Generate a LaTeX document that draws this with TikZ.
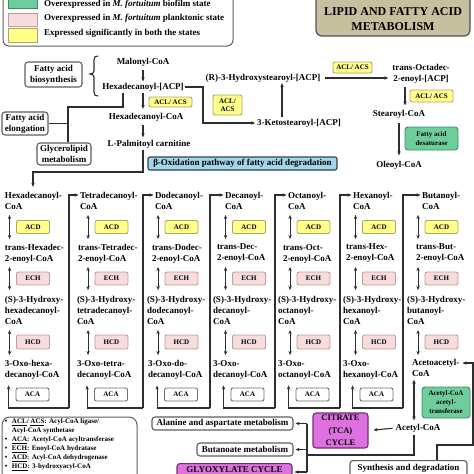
\documentclass[tikz,border=0pt]{standalone}
\usepackage{fontspec}
\setmainfont{Liberation Serif}
\usetikzlibrary{arrows.meta}
\definecolor{lnc}{HTML}{2E2E2E}
\definecolor{yelf}{HTML}{FFFF8A}
\definecolor{yeld}{HTML}{A8A86C}
\definecolor{pnkf}{HTML}{F7DCDC}
\definecolor{pnkd}{HTML}{C49A9A}
\definecolor{whd}{HTML}{6E6E6E}
\definecolor{grnf}{HTML}{6DCE9C}
\definecolor{grnd}{HTML}{3E8E65}
\definecolor{pbd}{HTML}{5E5E5E}
\definecolor{magf}{HTML}{DF70E0}
\definecolor{magd}{HTML}{6E306E}
\definecolor{bluef}{HTML}{A3D6E8}
\definecolor{blued}{HTML}{2F4550}
\definecolor{tanf}{HTML}{C7C09F}
\definecolor{tand}{HTML}{505050}
\tikzset{
 ln/.style={draw=lnc, line width=1.1pt},
 arr/.style={ln, -{Stealth[length=4pt,width=3.4pt]}},
 darr/.style={ln, {Stealth[length=4pt,width=3.4pt]}-{Stealth[length=4pt,width=3.4pt]}},
 tx/.style={inner sep=0pt, outer sep=0pt, font=\bfseries\fontsize{9}{11}\selectfont, align=left},
 txl/.style={tx, anchor=west},
 enz/.style={inner sep=0pt, rounded corners=2pt, line width=0.9pt, minimum width=33pt, minimum height=13pt, font=\bfseries\fontsize{7}{8}\selectfont, align=center},
 yel/.style={enz, fill=yelf, draw=yeld},
 pnk/.style={enz, fill=pnkf, draw=pnkd},
 wht/.style={enz, fill=white, draw=whd},
 grn/.style={enz, fill=grnf, draw=grnd, rounded corners=3pt, font=\bfseries\fontsize{7}{9}\selectfont},
 pbox/.style={inner sep=0pt, rounded corners=3pt, draw=pbd, line width=1.1pt, fill=white, font=\bfseries\fontsize{9}{11}\selectfont, align=center},
 mag/.style={pbox, fill=magf, draw=magd, font=\bfseries\fontsize{8.5}{12.5}\selectfont},
 swatch/.style={inner sep=0pt, line width=0.8pt, minimum width=29pt},
}
\newcommand\bcol[8]{%
 \node[txl] (ttl#1) at (#2,200.5) {#6};
 \node[yel] (acd#1) at (#5,227) {ACD};
 \node[txl] (tr#1) at (#3,253.5) {#7};
 \node[pnk] (ech#1) at (#5,278.5) {ECH};
 \node[txl] (s#1) at (#4,310) {#8};
 \node[pnk, minimum height=14pt] (hcd#1) at (#5,342) {HCD};
 \draw[darr] ([xshift=-6.5pt,yshift=12pt]acd#1.west) -- ([xshift=-6.5pt,yshift=-12pt]acd#1.west);
 \draw[darr] ([xshift=-6.5pt,yshift=11.5pt]ech#1.west) -- ([xshift=-6.5pt,yshift=-11.5pt]ech#1.west);
 \draw[darr] ([xshift=-6.5pt,yshift=12pt]hcd#1.west) -- ([xshift=-6.5pt,yshift=-13pt]hcd#1.west);
}
\newcommand\acaloop[4]{%
 \node[wht] (aca#1) at (#2,394.5) {ACA};
 \coordinate (lb#1) at (#3,408);
 \draw[arr] (lb#1) -- ([xshift=-7pt,yshift=-13.5pt]aca#1.west) -- ([xshift=-7pt,yshift=9pt]aca#1.west);
 \draw[arr, shorten >=1.5pt] (lb#1) |- ([yshift=5.5pt]ttl#4.west);
}
\begin{document}
\begin{tikzpicture}[x=1pt,y=-1pt]
\useasboundingbox (0,0) rectangle (474,474);
\clip (0,0) rectangle (474,474);
\fill[white] (0,0) rectangle (474,474);

% top legend
\draw[draw=pbd, line width=1pt, rounded corners=6pt, fill=white] (3,-12) rectangle (233,46);
\node[swatch, draw=grnd, fill=grnf, minimum height=15pt] (lg1) at (22.5,0.5) {};
\node[swatch, draw=pnkd, fill=pnkf, minimum height=13pt] (lg2) at (22.5,19.5) {};
\node[swatch, draw=yeld, fill=yelf, minimum height=14.5pt] (lg3) at (22.5,35.5) {};
\node[txl] (lt1) at (44,4) {Overexpressed in \textit{M. fortuitum} biofilm state};
\node[txl] (lt2) at (44,18.5) {Overexpressed in \textit{M. fortuitum} planktonic state};
\node[txl] (lt3) at (44,33.5) {Expressed significantly in both the states};

% title
\draw[draw=tand, fill=tanf, line width=1.2pt, rounded corners=6pt] (316,-12) rectangle (470,36);
\node[tx, align=center, font=\bfseries\fontsize{12}{15}\selectfont] (title) at (393,19.5) {LIPID AND FATTY ACID\\METABOLISM};

% biosynthesis part
\node[tx] (mal) at (143,62) {Malonyl-CoA};
\node[tx] (hacp) at (143,87) {Hexadecanoyl-[ACP]};
\node[tx] (hcoa) at (146,117) {Hexadecanoyl-CoA};
\node[tx] (palm) at (149,144) {L-Palmitoyl carnitine};
\node[tx] (rhyd) at (263,78) {(R)-3-Hydroxystearoyl-[ACP]};
\node[tx] (keto) at (299,123) {3-Ketostearoyl-[ACP]};
\node[tx, align=center] (toct) at (421,74) {trans-Octadec-\\2-enoyl-[ACP]};
\node[tx] (stea) at (399,114) {Stearoyl-CoA};
\node[tx] (olea) at (399,165) {Oleoyl-CoA};

\node[yel, minimum width=43pt, minimum height=10pt] (ea) at (170.5,102) {ACL/ ACS};
\node[yel, minimum width=29pt, minimum height=20pt] (eb) at (227.5,105) {ACL/\\ACS};
\node[yel, minimum width=39pt, minimum height=11pt] (ec) at (352.5,67.5) {ACL/ ACS};
\node[yel, minimum width=43pt, minimum height=12pt] (ed) at (431.5,96) {ACL/ ACS};
\node[grn, minimum width=53pt, minimum height=23pt] (ee) at (431.5,138.5) {Fatty acid\\desaturase};

\node[pbox, minimum width=57pt, minimum height=25pt] (bios) at (53.5,74.5) {Fatty acid\\biosynthesis};
\node[pbox, minimum width=46pt, minimum height=23pt] (elong) at (25,123.5) {Fatty acid\\elongation};
\node[pbox, minimum width=54pt, minimum height=22pt] (glyc) at (64,154) {Glycerolipid\\metabolism};
\node[pbox, fill=bluef, draw=blued, rounded corners=2pt, minimum width=189pt, minimum height=13pt] (beta) at (242.5,163.5) {β-Oxidation pathway of fatty acid degradation};

% brace
\draw[ln] (98,56) .. controls (95,56) and (94,57) .. (94,60) -- (94,71) .. controls (94,73) and (92,74) .. (90,74) .. controls (92,74) and (94,75) .. (94,77) -- (94,92) .. controls (94,95) and (95,96) .. (98,96);

\draw[arr, shorten <=3.5pt, shorten >=1.5pt] (mal) -- (hacp);
\draw[arr, shorten <=1.5pt, shorten >=4pt] (hacp.south) -- (hacp.south |- hcoa.north);
\draw[arr, shorten <=3.5pt, shorten >=2.5pt] (hcoa.south -| hacp) -- (palm.north -| hacp);
\coordinate (k0) at (203,87);
\draw[arr, shorten <=1pt, shorten >=2pt] (hacp.east) -- (k0) |- (keto.west);
\coordinate (kx) at (282,100);
\draw[arr, shorten <=1.5pt, shorten >=1pt] (keto.north -| kx) -- (rhyd.south -| kx);
\draw[arr, shorten <=5pt, shorten >=4pt] (rhyd.east) -- (toct.west |- rhyd.east);
\coordinate (sx) at (405,100);
\draw[arr, shorten <=3pt, shorten >=4.5pt] (toct.south -| sx) -- (stea.north -| sx);
\draw[arr, shorten <=4.5pt, shorten >=5.5pt] (stea.south) -- (olea.north);

\coordinate (e0) at (123,107);
\coordinate (e1) at (68,107);
\draw[ln, shorten <=1.5pt] (hacp.south -| e0) -- (e0) -- (e1) -- (e1 |- glyc.north);
\draw[ln] (elong.east) -- (elong.east -| e1);

% beta oxidation columns
\bcol{1}{5}{5}{5}{33}{Hexadecanoyl-\\CoA}{trans-Hexadec-\\2-enoyl-CoA}{(S)-3-Hydroxy-\\hexadecanoyl-\\CoA}
\node[txl] (o1) at (5,370) {3-Oxo-hexa-\\decanoyl-CoA};
\bcol{2}{80}{78}{77}{111.5}{Tetradecanoyl-\\CoA}{trans-Tetradec-\\2-enoyl-CoA}{(S)-3-Hydroxy-\\tetradecanoyl-\\CoA}
\node[txl] (o2) at (77,370) {3-Oxo-tetra-\\decanoyl-CoA};
\bcol{3}{155}{152}{147}{181.5}{Dodecanoyl-\\CoA}{trans-Dodec-\\2-enoyl-CoA}{(S)-3-Hydroxy-\\dodecanoyl-\\CoA}
\node[txl] (o3) at (148,370) {3-Oxo-do-\\decanoyl-CoA};
\bcol{4}{225}{217}{213}{249}{Decanoyl-\\CoA}{trans-Dec-\\2-enoyl-CoA}{(S)-3-Hydroxy-\\decanoyl-\\CoA}
\node[txl] (o4) at (213,370) {3-Oxo-\\decanoyl-CoA};
\bcol{5}{288}{283}{278}{313.5}{Octanoyl-\\CoA}{trans-Oct-\\2-enoyl-CoA}{(S)-3-Hydroxy-\\octanoyl-\\CoA}
\node[txl] (o5) at (278,370) {3-Oxo-\\octanoyl-CoA};
\bcol{6}{353}{346}{343}{379}{Hexanoyl-\\CoA}{trans-Hex-\\2-enoyl-CoA}{(S)-3-Hydroxy-\\hexanoyl-\\CoA}
\node[txl] (o6) at (343,370) {3-Oxo-\\hexanoyl-CoA};
\bcol{7}{422}{416}{407}{441.5}{Butanoyl-\\CoA}{trans-But-\\2-enoyl-CoA}{(S)-3-Hydroxy-\\butanoyl-\\CoA}
\node[txl] (aceto) at (412,368) {Acetoacetyl-\\CoA};

\coordinate (c0) at (33,172);
\draw[arr, shorten <=1.5pt] (palm.south -| hacp) |- (c0) -- ([xshift=28pt,yshift=5pt]ttl1.north west);

\acaloop{1}{32.5}{69}{2}
\acaloop{2}{111}{143}{3}
\acaloop{3}{181}{210}{4}
\acaloop{4}{247.5}{275}{5}
\acaloop{5}{312.5}{340}{6}
\acaloop{6}{376.5}{403}{7}

% bottom right
\node[grn, minimum width=48pt, minimum height=31pt] (acat) at (446,402.5) {Acetyl-CoA\\acetyl-\\transferase};
\node[tx] (acetyl) at (418,428) {Acetyl-CoA};
\coordinate (ax) at (414,400);
\draw[darr, shorten <=3pt, shorten >=3.5pt] (aceto.south -| ax) -- (acetyl.north -| ax);
\node[mag, minimum width=55pt, minimum height=35pt] (cit) at (340.5,430.5) {CITRATE\\(TCA)\\CYCLE};
\draw[arr, shorten <=3pt, shorten >=5pt] (acetyl.west) -- (cit.east);

\node[pbox, minimum width=141pt, minimum height=13pt] (ala) at (222.5,423.5) {Alanine and aspartate metabolism};
\node[pbox, minimum width=96pt, minimum height=13pt] (buta) at (245,449.5) {Butanoate metabolism};
\node[mag, font=\bfseries\fontsize{9}{11}\selectfont, minimum width=115pt, text height=8.5pt, text depth=18pt, anchor=north] (glyox) at (234.5,463) {GLYOXYLATE CYCLE};
\node[pbox, minimum width=117pt, text height=10pt, text depth=20pt, anchor=north] (synth) at (408.5,460) {Synthesis and degradation};

\coordinate (j1) at (307,455);
\coordinate (j2) at (307,472);
\draw[ln, shorten <=3pt] (acetyl.south -| ax) |- (j1);
\draw[ln] (ala.east -| j1) -- (j2);
\draw[arr, shorten >=2pt] (ala.east -| j1) -- (ala.east);
\draw[arr, shorten >=2pt] (buta.east -| j1) -- (buta.east);
\draw[arr, shorten >=2pt] (j2) -- (j2 -| glyox.east);

\coordinate (r1) at (473,445);
\coordinate (r2) at (437,445);
\draw[arr] (synth.north -| r2) -- (r2) -- (r1) |- ([xshift=3pt,yshift=5pt]aceto.east);

% bottom legend
\draw[draw=pbd, line width=1pt, rounded corners=8pt, fill=white] (2,417) rectangle (137,495);
\node[tx, anchor=north west, font=\bfseries\fontsize{7}{9.1}\selectfont] (leg) at (5,418.5) {%
\makebox[7pt][l]{•}\underline{ACL}/ \underline{ACS}: Acyl-CoA ligase/\\
\hspace*{7pt}Acyl-CoA synthetase\\
\makebox[7pt][l]{•}\underline{ACA}: Acetyl-CoA acyltransferase\\
\makebox[7pt][l]{•}\underline{ECH}: Enoyl-CoA hydratase\\
\makebox[7pt][l]{•}\underline{ACD}: Acyl-CoA dehydrogenase\\
\makebox[7pt][l]{•}\underline{HCD}: 3-hydroxyacyl-CoA};
\end{tikzpicture}
\end{document}
